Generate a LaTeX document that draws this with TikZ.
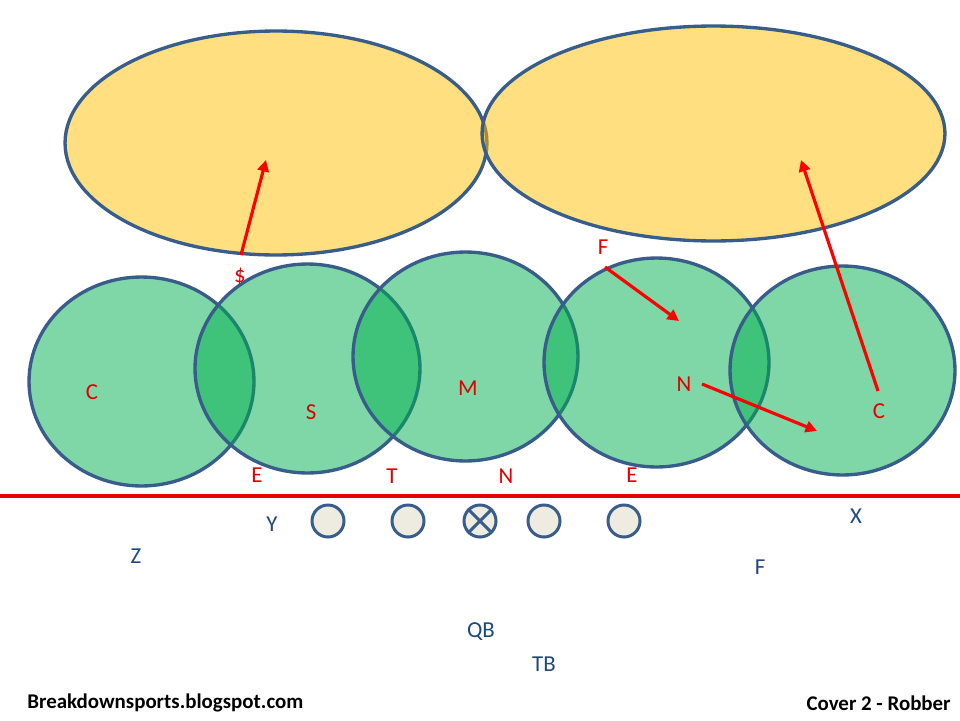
\documentclass[tikz,border=0pt]{standalone}
\usepackage{fontspec}
\setmainfont{Carlito}
\usepackage{tikz}
\usetikzlibrary{arrows.meta,shapes.geometric}
\definecolor{zoneline}{HTML}{385D8A}
\definecolor{zonegreen}{HTML}{00B050}
\definecolor{zoneyellow}{HTML}{FFC000}
\definecolor{defred}{HTML}{E00000}
\definecolor{offblue}{HTML}{1F497D}
\definecolor{linefill}{HTML}{EEECE1}
\begin{document}
\begin{tikzpicture}[
			x=0.02cm, y=-0.02cm
			,zone/.style={ellipse, draw=zoneline, line width=1.9pt, fill opacity=.5, inner sep=0, outer sep=0}
			,deep/.style={zone, fill=zoneyellow}
			,under/.style={zone, fill=zonegreen, minimum width=4.5cm, minimum height=4.18cm}
			,lineman/.style={circle, draw=zoneline, line width=1.7pt, fill=linefill, minimum size=.64cm, inner sep=0}
			,def/.style={text=defred, inner sep=0, font=\fontsize{13}{15}\selectfont}
			,off/.style={text=offblue, inner sep=0, font=\fontsize{13}{15}\selectfont}
			,credit/.style={text=black, inner sep=0, font=\fontsize{11.9}{14}\selectfont\bfseries}
			,drop/.style={draw=red, line width=1.8pt, -{Triangle[length=6.5pt,width=6.5pt]}}
		]
			\useasboundingbox (0,0) rectangle (960,720);
			\fill[white] (0,0) rectangle (960,720);
			\node [deep, minimum width=8.44cm, minimum height=4.48cm] (deepL) at (276,143) {};
			\node [deep, minimum width=9.26cm, minimum height=4.3cm] (deepR) at (713.5,133.5) {};
			\node [def] (dollar) at (240,277) {\$};
			\node [under] (zoneA) at (141.5,381.5) {};
			\node [under] (zoneB) at (307.5,368.5) {};
			\node [under] (zoneC) at (465.5,356.5) {};
			\node [under] (zoneD) at (656.5,362.5) {};
			\node [under] (zoneE) at (842.5,370.5) {};
			\coordinate (lineL) at (0,496);
			\coordinate (lineR) at (960,496);
			\draw[red!90!black, line width=1.8pt] (lineL) -- (lineR);
			% defense
			\node [def] (cl) at (92,392) {C};
			\node [def] (ss) at (311,412) {S};
			\node [def] (mm) at (468,388) {M};
			\node [def] (fs) at (603,247) {F};
			\node [def] (nb) at (684,384) {N};
			\node [def] (cr) at (879,411) {C};
			\node [def] (el) at (257,475) {E};
			\node [def] (tt) at (392,476) {T};
			\node [def] (nt) at (506,476) {N};
			\node [def] (er) at (632,475) {E};
			% drops
			\coordinate (d1) at (241,255);
			\coordinate (d2) at (266,160);
			\coordinate (f1) at (605,267);
			\coordinate (f2) at (679,321);
			\coordinate (n1) at (702,384);
			\coordinate (n2) at (817,431);
			\coordinate (c1) at (878,391);
			\coordinate (c2) at (801,160);
			\draw[drop] (d1) -- (d2);
			\draw[drop] (f1) -- (f2);
			\draw[drop] (n1) -- (n2);
			\draw[drop] (c1) -- (c2);
			% offense
			\node [lineman] (lt) at (328,521) {};
			\node [lineman] (lg) at (408,521) {};
			\node [lineman] (ce) at (480,521) {};
			\draw[zoneline, line width=1.7pt] (ce.north west) -- (ce.south east) (ce.north east) -- (ce.south west);
			\node [lineman] (rg) at (544,521) {};
			\node [lineman] (rt) at (624,521) {};
			\node [off] (y) at (272,524) {Y};
			\node [off] (z) at (136,556) {Z};
			\node [off] (x) at (856,516) {X};
			\node [off] (f) at (760,567) {F};
			\node [off] (qb) at (481,632) {QB};
			\node [off] (tb) at (544,664) {TB};
			\node [credit, anchor=west] (site) at (27,703) {Breakdownsports.blogspot.com};
			\node [credit, anchor=east] (play) at (951,703) {Cover 2 - Robber};
		\end{tikzpicture}
\end{document}
